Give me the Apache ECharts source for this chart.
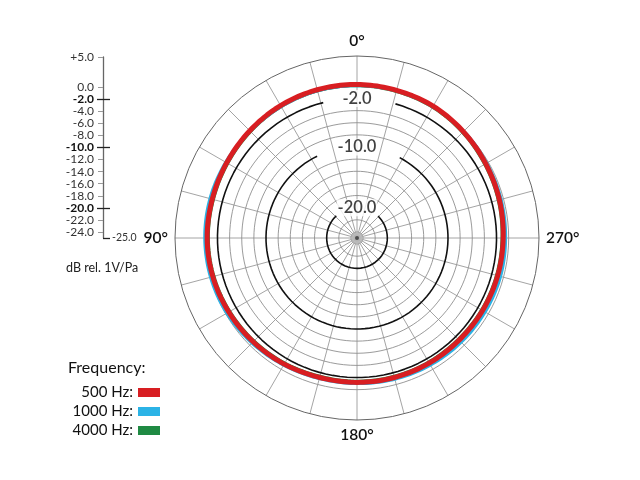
<!DOCTYPE html>
<html><head><meta charset="utf-8">
<script src="https://cdn.jsdelivr.net/npm/echarts@6/dist/echarts.min.js"></script>
<style>html,body{margin:0;padding:0;background:#fff}#c{width:640px;height:480px}</style>
</head><body><div id="c"></div>
<script>
// ---- data ----
const angles = [0,15,30,45,60,75,90,105,120,135,150,165,180,195,210,225,240,255,270,285,300,315,330,345];
const db500  = [0.3,0.3,0.2,0.0,-0.2,-0.3,-0.3,-0.4,-0.6,-0.8,-1.0,-1.2,-1.2,-1.2,-1.2,-1.2,-1.1,-1.0,-0.9,-0.7,-0.5,-0.2,0.1,0.2];
const db1000 = [0.1,0.1,0.0,-0.1,0.0,0.1,0.1,0.0,-0.2,-0.5,-0.8,-1.0,-1.0,-0.9,-0.8,-0.7,-0.6,-0.5,-0.5,-0.4,-0.3,-0.1,0.0,0.1];
const db4000 = [0.1,0.1,0.0,-0.2,-0.4,-0.5,-0.5,-0.6,-0.8,-1.0,-1.2,-1.4,-1.4,-1.4,-1.4,-1.4,-1.3,-1.2,-1.1,-0.9,-0.7,-0.4,-0.1,0.0];
const seriesNames = ['500 Hz','1000 Hz','4000 Hz'];
const gridRings = [-24,-22,-20,-18,-16,-14,-12,-10,-8,-6,-4,-2,0];
const majorRings = [-2,-10,-20];
const ringGapDeg = {'-2': 14, '-10': 26, '-20': 43};
const scaleTicks = [5,0,-2,-4,-6,-8,-10,-12,-14,-16,-18,-20,-22,-24];
const scaleMin = -25, scaleMax = 5;
const angleLabels = [0,90,180,270];

const FONT = 'Lato, "Open Sans", sans-serif';
const colors = ['#d81e22','#2bb3e6','#1f8a43'];

function ring(v, gap){ const d=[]; for(let a=gap; a<=360-gap+0.001; a+=3) d.push([v, a]); if(!gap) d.push([v,360]); return d; }
const fmt = v => (v>0?'+':'') + v.toFixed(1);

// smooth closed curve through the measured points (Catmull-Rom in polar data space, mapped by api.coord)
function makeRender(vals, color, width){
  return function(params, api){
    if (params.dataIndex !== 0) return;
    const n = vals.length, pts = [];
    for (let i=0;i<n;i++){
      const p0=vals[(i-1+n)%n], p1=vals[i], p2=vals[(i+1)%n], p3=vals[(i+2)%n];
      const a1 = angles[i], a2 = (i+1<n) ? angles[i+1] : 360;
      for (let s=0;s<12;s++){
        const t=s/12, t2=t*t, t3=t2*t;
        const r = 0.5*((2*p1)+(-p0+p2)*t+(2*p0-5*p1+4*p2-p3)*t2+(-p0+3*p1-3*p2+p3)*t3);
        pts.push(api.coord([r, a1+(a2-a1)*t]));
      }
    }
    pts.push(pts[0]);
    return {type:'polyline', shape:{points:pts}, style:{stroke:color, lineWidth:width, fill:null, lineJoin:'round'}};
  };
}

const series = [];
gridRings.forEach(v=>{
  if (majorRings.includes(v)) return;
  series.push({type:'line', coordinateSystem:'polar', data: ring(v,0), showSymbol:false, silent:true, z:1,
    lineStyle:{color:'#8f8f8f', width:0.9}});
});
majorRings.forEach(v=>{
  series.push({type:'line', coordinateSystem:'polar', data: ring(v, ringGapDeg[String(v)]), showSymbol:false, silent:true, z:2,
    lineStyle:{color:'#111', width:1.6}});
});
series.push({type:'scatter', coordinateSystem:'polar', data:[[scaleMin,0]], symbolSize:12, silent:true, z:3, itemStyle:{color:'#b8b8b8'}});
series.push({type:'scatter', coordinateSystem:'polar', data:[[scaleMin,0]], symbolSize:4, silent:true, z:3, itemStyle:{color:'#333'}});
series.push({type:'scatter', coordinateSystem:'polar', data: majorRings.map(v=>[v,0]), symbolSize:1, silent:true, z:4,
  itemStyle:{color:'rgba(0,0,0,0)'},
  label:{show:true, position:'inside', formatter: p=>fmt(p.value[0]), fontFamily:FONT, fontSize:16.5, fontWeight:600, color:'#111',
    backgroundColor:'#fff', padding:[0,1]}});
[[db4000,2],[db1000,1],[db500,0]].forEach(([vals,i])=>{
  series.push({name: seriesNames[i], type:'custom', coordinateSystem:'polar', z: 10+(2-i), silent:true, clip:false,
    itemStyle:{color: colors[i]},
    data: angles.map((a,k)=>[vals[k], a]), encode:{radius:0, angle:1},
    renderItem: makeRender(vals, colors[i], i===0?5:3)});
});

const legendTops = [385, 404, 423];
const option = {
  animation:false,
  backgroundColor:'#fff',
  textStyle:{fontFamily:FONT},
  title:{text:'Frequency:', left:68, top:360, textStyle:{fontFamily:FONT, fontSize:16, fontWeight:'normal', color:'#111'}, padding:0},
  legend: seriesNames.map((n,i)=>({data:[{name:n, icon:'rect'}], right:480, top:legendTops[i], align:'right', orient:'vertical',
    itemWidth:22, itemHeight:9, padding:0, selectedMode:false, formatter:'{name}:',
    textStyle:{fontFamily:FONT, fontSize:15, color:'#111'}})),
  graphic:[{type:'text', left:66, top:261, style:{text:'dB rel. 1V/Pa', fontFamily:FONT, fontSize:12.5, fill:'#222'}}],
  polar:{center:[357,238], radius:182},
  angleAxis:{type:'value', min:0, max:360, interval:15, startAngle:90, clockwise:false,
    axisLine:{show:true, lineStyle:{color:'#666', width:1}},
    axisTick:{show:false},
    splitLine:{show:true, lineStyle:{color:'#9a9a9a', width:0.9}},
    axisLabel:{show:true, margin:7, fontFamily:FONT, fontSize:15.5, fontWeight:600, color:'#111',
      formatter: v => (angleLabels.includes(v) ? v + '°' : '')}},
  radiusAxis:{type:'value', min:scaleMin, max:scaleMax, axisLine:{show:false}, axisTick:{show:false}, axisLabel:{show:false}, splitLine:{show:false}},
  grid:[{left:103, top:57, width:0, height:181},{left:103, top:57, width:0, height:181}],
  xAxis:[{gridIndex:0, type:'value', show:false, min:0, max:1},{gridIndex:1, type:'value', show:false, min:0, max:1}],
  yAxis:[
    {gridIndex:0, type:'value', min:scaleMin, max:scaleMax, position:'left',
      axisLine:{show:true, lineStyle:{color:'#666', width:1.3}},
      axisTick:{show:true, customValues:scaleTicks, length:5, lineStyle:{color:'#9a9a9a'}},
      axisLabel:{show:true, customValues:scaleTicks, margin:9, fontFamily:FONT, fontSize:12, color:'#333',
        formatter: v => majorRings.includes(v) ? '{b|'+fmt(v)+'}' : fmt(v),
        rich:{b:{fontFamily:FONT, fontSize:12, fontWeight:'bold', color:'#111'}}},
      splitLine:{show:false}},
    {gridIndex:0, type:'value', min:scaleMin, max:scaleMax, position:'right',
      axisLine:{show:false},
      axisTick:{show:true, customValues:[scaleMin].concat(majorRings), length:7, lineStyle:{color:'#222', width:1.3}},
      axisLabel:{show:true, customValues:[scaleMin], margin:9, fontFamily:FONT, fontSize:10.5, color:'#333', formatter: v=>v.toFixed(1)},
      splitLine:{show:false}},
    {gridIndex:1, type:'value', min:scaleMin, max:scaleMax, position:'left',
      axisLine:{show:false},
      axisTick:{show:true, customValues:majorRings, length:6, lineStyle:{color:'#222', width:1.3}},
      axisLabel:{show:false}, splitLine:{show:false}}
  ],
  series: series
};
const chart = echarts.init(document.getElementById('c'), null, {renderer:'canvas'});
chart.setOption(option);
</script></body></html>
